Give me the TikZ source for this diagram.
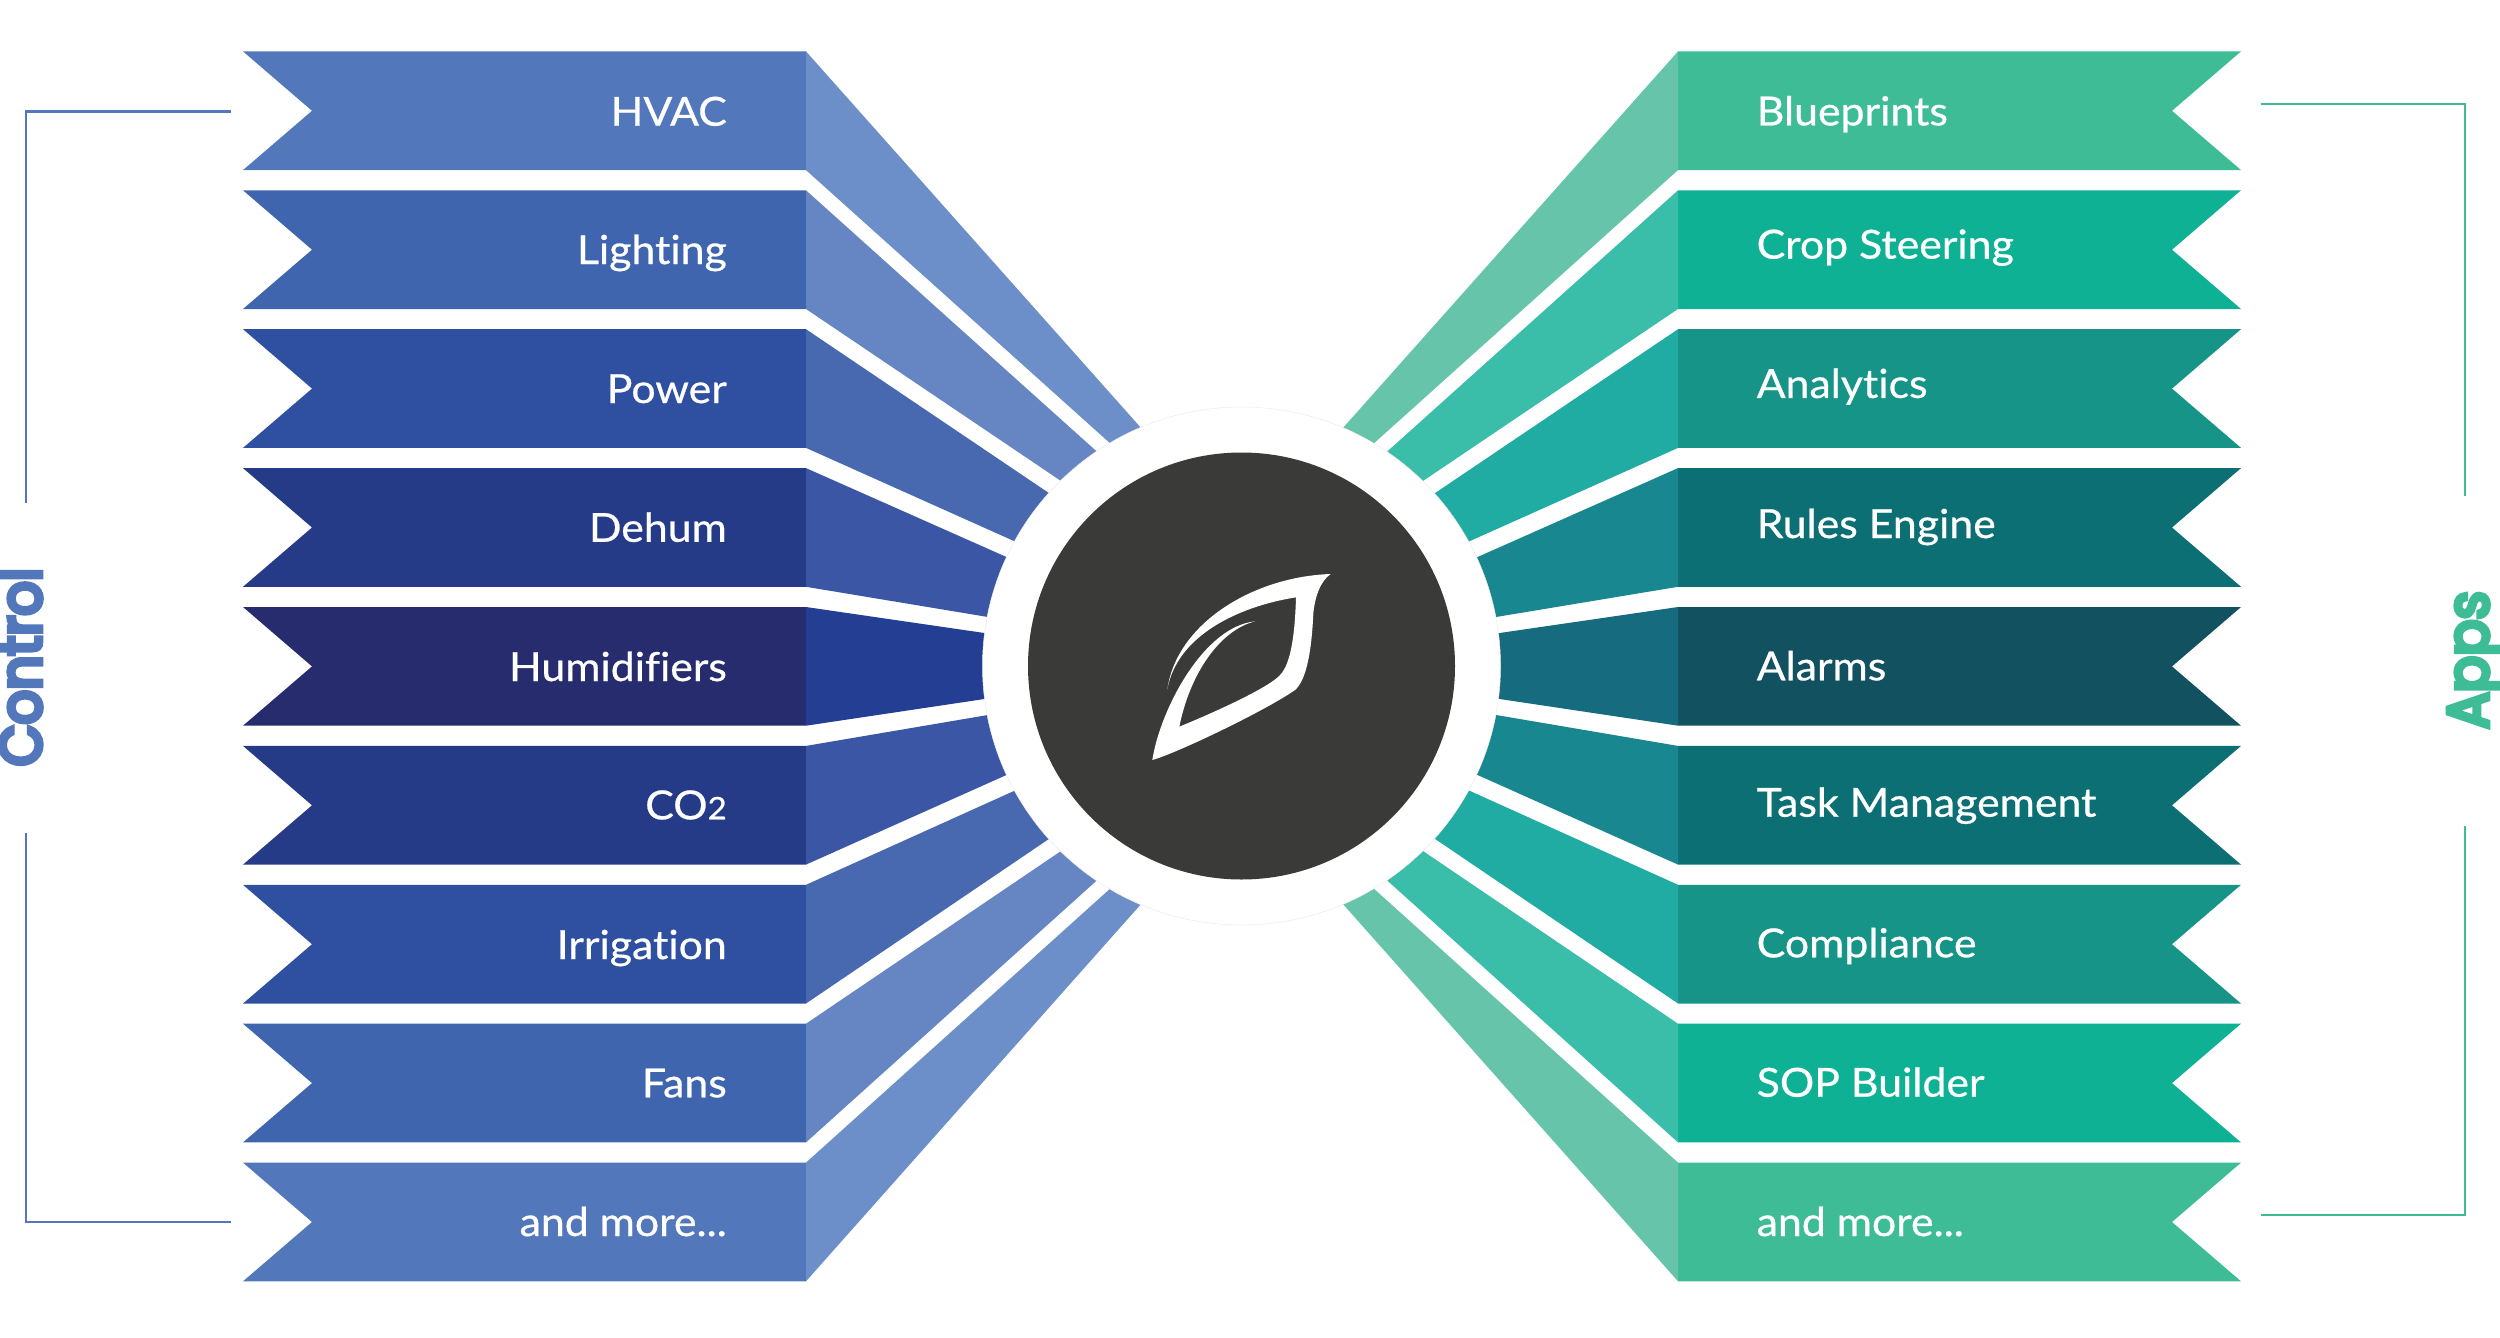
\documentclass[tikz,border=0pt]{standalone}
\usepackage{fontspec}
\usepackage{xcolor}
\usetikzlibrary{calc}
\setmainfont{Lato}[FakeStretch=1.07,FakeBold=0.6,Ligatures=NoCommon]
\newfontfamily\headfont{Poppins}[FakeStretch=0.93,FakeBold=8]
\definecolor{controlrib0}{HTML}{5277BB}
\definecolor{controlrib1}{HTML}{3F65AE}
\definecolor{controlrib2}{HTML}{2F4FA0}
\definecolor{controlrib3}{HTML}{253B88}
\definecolor{controlrib4}{HTML}{262C6E}
\definecolor{controlfan0}{HTML}{6C8EC9}
\definecolor{controlfan1}{HTML}{6685C3}
\definecolor{controlfan2}{HTML}{4868B0}
\definecolor{controlfan3}{HTML}{3A56A5}
\definecolor{controlfan4}{HTML}{233E92}
\definecolor{appsrib0}{HTML}{3EBC96}
\definecolor{appsrib1}{HTML}{0FB195}
\definecolor{appsrib2}{HTML}{169488}
\definecolor{appsrib3}{HTML}{0C6F74}
\definecolor{appsrib4}{HTML}{125260}
\definecolor{appsfan0}{HTML}{66C4AA}
\definecolor{appsfan1}{HTML}{3ABDA9}
\definecolor{appsfan2}{HTML}{20ACA3}
\definecolor{appsfan3}{HTML}{198790}
\definecolor{appsfan4}{HTML}{166C7E}
\definecolor{hubdark}{HTML}{3A3A38}
\tikzset{
    control-label/.style = {anchor=base east, inner sep=0pt, text=white, font=\fontsize{40}{40}\selectfont},
    apps-label/.style = {anchor=base west, inner sep=0pt, text=white, font=\fontsize{40}{40}\selectfont},
    side-title/.style = {anchor=base, rotate=90, inner sep=0pt, font=\headfont\fontsize{58}{58}\selectfont},
    bracket/.style = {line width=2.2pt, line cap=butt, line join=miter},
    hub-ring/.style = {circle, draw=black!8, line width=0.5pt, fill=white, inner sep=0pt, minimum size=518pt},
    hub-core/.style = {circle, fill=hubdark, inner sep=0pt, minimum size=427pt},
}
\begin{document}
\begin{tikzpicture}[x=1pt,y=-1pt]
\useasboundingbox (0,0) rectangle (2500,1338);

% ribbons and their fans, the right side is the left one mirrored
\foreach \sidename/\xorigin/\xdir in {control/0/1, apps/2484/-1}{
  \begin{scope}[xshift=\xorigin pt, x=\xdir pt]
    \foreach \shade/\ytop/\ymid/\ybot/\xa/\ya/\xb/\yb in {
        0/51.4/110.8/170.1/1140.2/427/1109.2/442.5,
        1/190.3/249.7/309/1096.2/451/1060.6/480.7,
        2/329.2/388.6/447.9/1048.7/492.9/1013.9/541,
        3/468.1/527.5/586.8/1006/556.8/986.7/616.8,
        4/607/666.4/725.7/984.4/633/984.4/699,
        3/745.9/805.3/864.6/986.7/715.2/1006/775.2,
        2/884.8/944.2/1003.5/1013.9/791/1048.7/839.1,
        1/1023.7/1083.1/1142.4/1060.6/851.3/1096.2/881,
        0/1162.6/1222/1281.3/1109.2/889.5/1140.2/905}{
      \fill[fill=\sidename rib\shade] (243,\ytop) -- (806,\ytop) -- (806,\ybot) -- (243,\ybot) -- (312,\ymid) -- cycle;
      \fill[fill=\sidename fan\shade] (806,\ytop) -- ($(806,\ytop)!1.03!(\xa,\ya)$) -- ($(806,\ybot)!1.03!(\xb,\yb)$) -- (806,\ybot) -- cycle;
    }
  \end{scope}
}

\node[hub-ring] (ring) at (1241.5,666) {};
\node[hub-core] (core) at (ring) {};

% leaf
\begin{scope}[shift={(1120,550)},scale=1/3]
  \fill[white] (97,630) .. controls (120,480) and (250,230) .. (405,214)
    .. controls (300,240) and (210,370) .. (178,530)
    .. controls (300,480) and (450,410) .. (480,375)
    .. controls (515,340) and (525,240) .. (528,142)
    .. controls (350,170) and (170,260) .. (142,418)
    .. controls (170,220) and (400,80) .. (632,72)
    .. controls (600,95) and (585,140) .. (580,190)
    .. controls (575,300) and (560,390) .. (525,420)
    .. controls (440,480) and (170,610) .. (97,630) -- cycle;
\end{scope}

\node[control-label] (hvac) at (727,125.7) {HVAC};
\node[control-label] (lighting) at (727,264) {Lighting};
\node[control-label] (power) at (727,403) {Power};
\node[control-label] (dehum) at (727,541.8) {Dehum};
\node[control-label] (humidifiers) at (727,681) {Humidifiers};
\node[control-label] (co2) at (727,819.3) {CO{\fontsize{31}{31}\selectfont 2}};
\node[control-label] (irrigation) at (727,959) {Irrigation};
\node[control-label] (fans) at (727,1097.3) {Fans};
\node[control-label] (control-more) at (727,1236) {and more...};

\node[apps-label] (blueprints) at (1756.5,125.4) {Blueprints};
\node[apps-label] (crop) at (1756.5,258.6) {Crop Steering};
\node[apps-label] (analytics) at (1756.5,397.9) {Analytics};
\node[apps-label] (rules) at (1756.5,538) {Rules Engine};
\node[apps-label] (alarms) at (1756.5,680.3) {Alarms};
\node[apps-label] (task) at (1756.5,816.7) {Task Management};
\node[apps-label] (compliance) at (1756.5,957.3) {Compliance};
\node[apps-label] (sop) at (1756.5,1096.7) {SOP Builder};
\node[apps-label] (apps-more) at (1756.5,1236) {and more...};

\node[side-title, text=controlrib0] (control) at (41,667) {Control};
\node[side-title, text=appsrib0] (apps) at (2488,660) {Apps};

\coordinate (ctrl-a) at (231,111.4);
\coordinate (ctrl-b) at (25.7,111.4);
\coordinate (ctrl-c) at (25.7,503);
\coordinate (ctrl-d) at (25.7,833);
\coordinate (ctrl-e) at (25.7,1221.7);
\coordinate (ctrl-f) at (231,1221.7);
\draw[bracket, controlrib0] (ctrl-a) -- (ctrl-b) -- (ctrl-c);
\draw[bracket, controlrib0] (ctrl-d) -- (ctrl-e) -- (ctrl-f);

\coordinate (apps-a) at (2260.5,104.3);
\coordinate (apps-b) at (2464.7,104.3);
\coordinate (apps-c) at (2464.7,496.4);
\coordinate (apps-d) at (2464.7,826);
\coordinate (apps-e) at (2464.7,1214.7);
\coordinate (apps-f) at (2260.5,1214.7);
\draw[bracket, appsrib0] (apps-a) -- (apps-b) -- (apps-c);
\draw[bracket, appsrib0] (apps-d) -- (apps-e) -- (apps-f);
\end{tikzpicture}
\end{document}
